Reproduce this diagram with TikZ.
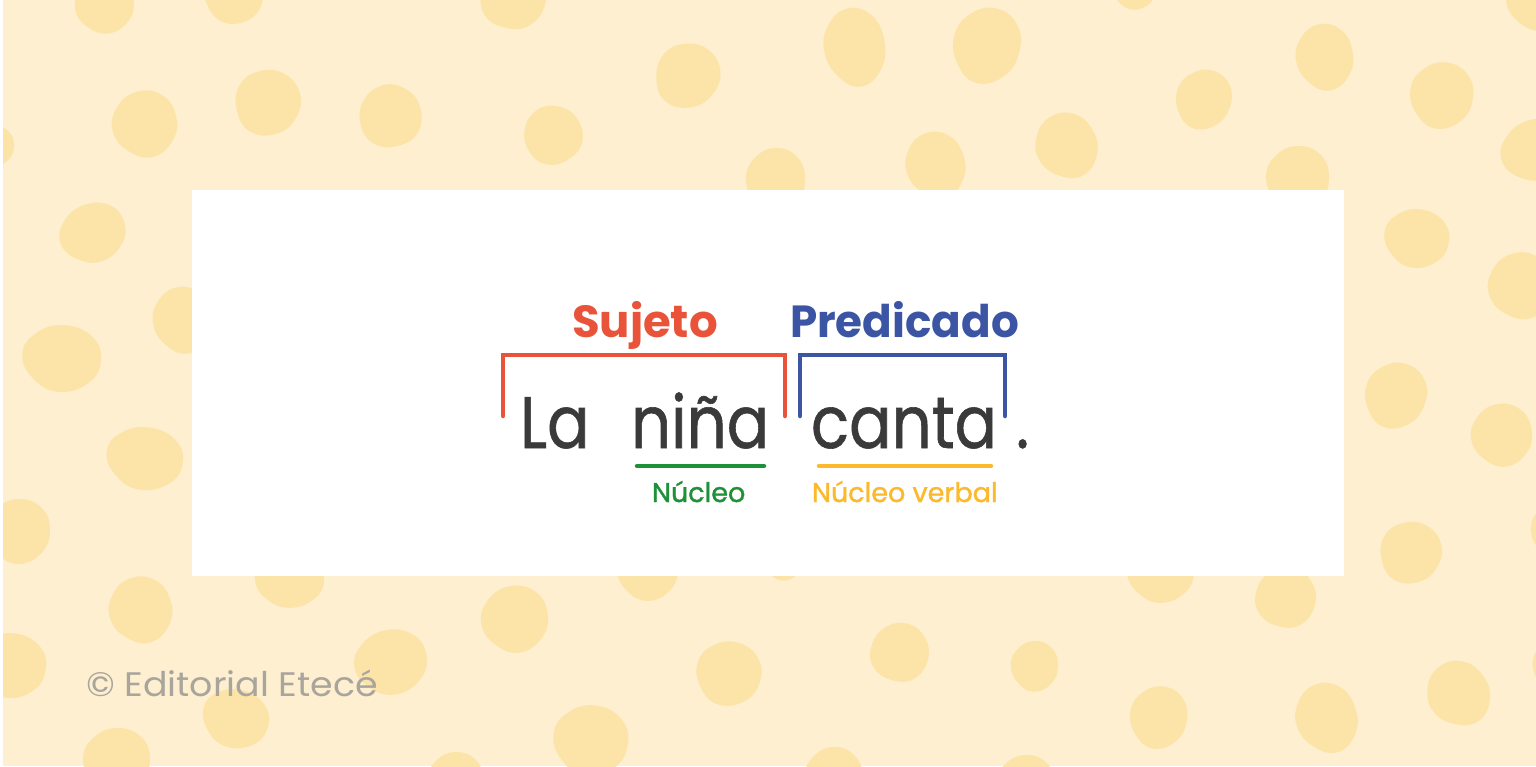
\documentclass[tikz,border=0pt]{standalone}
\usepackage{fontspec}
\setmainfont{Poppins}
\newfontfamily\pnarrow[FakeStretch=0.86,FakeBold=0.8]{Poppins}
\newfontfamily\psemi[FakeBold=1.3]{Poppins}
\newfontfamily\pwide[FakeStretch=1.07]{Poppins}
\newfontfamily\pboldn[FakeStretch=0.97]{Poppins}
\definecolor{bgc}{RGB}{253,239,207}
\definecolor{blobc}{RGB}{252,228,168}
\definecolor{redc}{RGB}{232,83,58}
\definecolor{bluec}{RGB}{59,85,164}
\definecolor{greenc}{RGB}{30,144,56}
\definecolor{yellowc}{RGB}{251,185,43}
\definecolor{darkc}{RGB}{58,58,58}
\definecolor{grayc}{RGB}{169,165,157}
\tikzset{
  lbl/.style={anchor=base west, inner sep=0pt, outer sep=0pt},
  bigword/.style={lbl, text=darkc, font=\pnarrow\fontsize{73}{73}\selectfont},
  bracketline/.style={line width=4.5pt, line cap=round, line join=miter},
  underline/.style={line width=4.5pt, line cap=round},
}
\begin{document}
\begin{tikzpicture}[x=1pt,y=-1pt]
\useasboundingbox (0,0) rectangle (1536,766);
\fill[white] (0,0) rectangle (1536,766);
\fill[bgc] (3,0) rectangle (1536,766);
\begin{scope}
\clip (3,0) rectangle (1536,766);
\foreach \cx/\cy/\a/\b/\r in {
104/5/30/28/10, 233/-5/30/28/-20, 513/-2/34/31/30, 144/124/33/33/15,
267/102/33/33/-30, 390/117/32/31/60, -12/146/26/22/0, 92/233/34/29/20,
687/75/32/33/-40, 553/136/30/29/80, 854/47/31/39/10, 986/45/34/38/-15,
775/180/30/32/0, 935/165/30/33/20, 1134/-15/24/24/0, 1324/57/29/33/10,
1203/99/28/30/-20, 1066/146/31/33/30, 1441/95/32/33/-10, 1540/0/35/30/0,
1535/150/36/30/20, 1297/178/32/32/0, 1416/238/33/29/-10, 182/320/30/33/10,
61/358/40/33/-5, 144/458/39/31/-10, 18/531/32/32/0, 1520/286/33/33/20,
1395/395/31/33/-20, 1501/435/31/31/10, 1410/552/31/31/-30, 1560/530/30/30/0,
140/610/32/33/20, 289/580/35/27/0, 514/619/34/33/10, 10/665/36/32/-10,
390/662/37/32/10, 235/718/34/29/-20, 116/760/34/32/0, 455/780/28/28/0,
647/570/31/30/0, 783/560/20/20/0, 728/673/33/32/-20, 899/653/30/29/30,
590/740/38/35/-10, 833/780/30/33/0, 1034/666/24/25/0, 1025/785/30/30/0,
1160/572/34/30/0, 1285/598/31/30/30, 1158/717/29/31/-10, 1326/718/31/35/20,
1458/694/31/33/40, 1562/665/30/30/0}
{
  \fill[blobc, shift={(\cx,\cy)}, rotate=\r] plot[smooth cycle, tension=0.75] coordinates {
    (\a,0) (0.72*\a,0.70*\b) (0,1.03*\b) (-0.66*\a,0.68*\b)
    (-0.97*\a,0) (-0.70*\a,-0.66*\b) (0,-\b) (0.74*\a,-0.72*\b)};
}
\end{scope}
\fill[white] (192,190) rectangle (1344,576);

% labels above
\node[lbl, text=redc, font=\bfseries\fontsize{45}{45}\selectfont] (suj) at (572,337) {Sujeto};
\node[lbl, text=bluec, font=\pboldn\bfseries\fontsize{45}{45}\selectfont] (pred) at (790,337) {Predicado};

% brackets
\coordinate (r1) at (503,416); \coordinate (r2) at (503,355);
\coordinate (r3) at (785,355); \coordinate (r4) at (785,416);
\draw[bracketline, redc] (r1) -- (r2) -- (r3) -- (r4);
\coordinate (b1) at (800,416); \coordinate (b2) at (800,355);
\coordinate (b3) at (1005,355); \coordinate (b4) at (1005,416);
\draw[bracketline, bluec] (b1) -- (b2) -- (b3) -- (b4);

% sentence
\node[bigword] (la) at (520,448) {La};
\node[bigword] (nina) at (631,448) {niña};
\node[bigword] (canta) at (811,448) {canta};
\node[bigword] (dot) at (1016,448) {.};

% underlines
\coordinate (g1) at (637,466); \coordinate (g2) at (764,466);
\draw[underline, greenc] (g1) -- (g2);
\coordinate (y1) at (819,466); \coordinate (y2) at (991,466);
\draw[underline, yellowc] (y1) -- (y2);

\node[lbl, text=greenc, font=\psemi\fontsize{27}{27}\selectfont] (nuc) at (652,502) {Núcleo};
\node[lbl, text=yellowc, font=\psemi\fontsize{27}{27}\selectfont] (nucv) at (812,502) {Núcleo verbal};

\node[lbl, text=grayc, font=\pwide\fontsize{34}{34}\selectfont] (copy) at (86,696) {© Editorial Etecé};
\end{tikzpicture}
\end{document}
